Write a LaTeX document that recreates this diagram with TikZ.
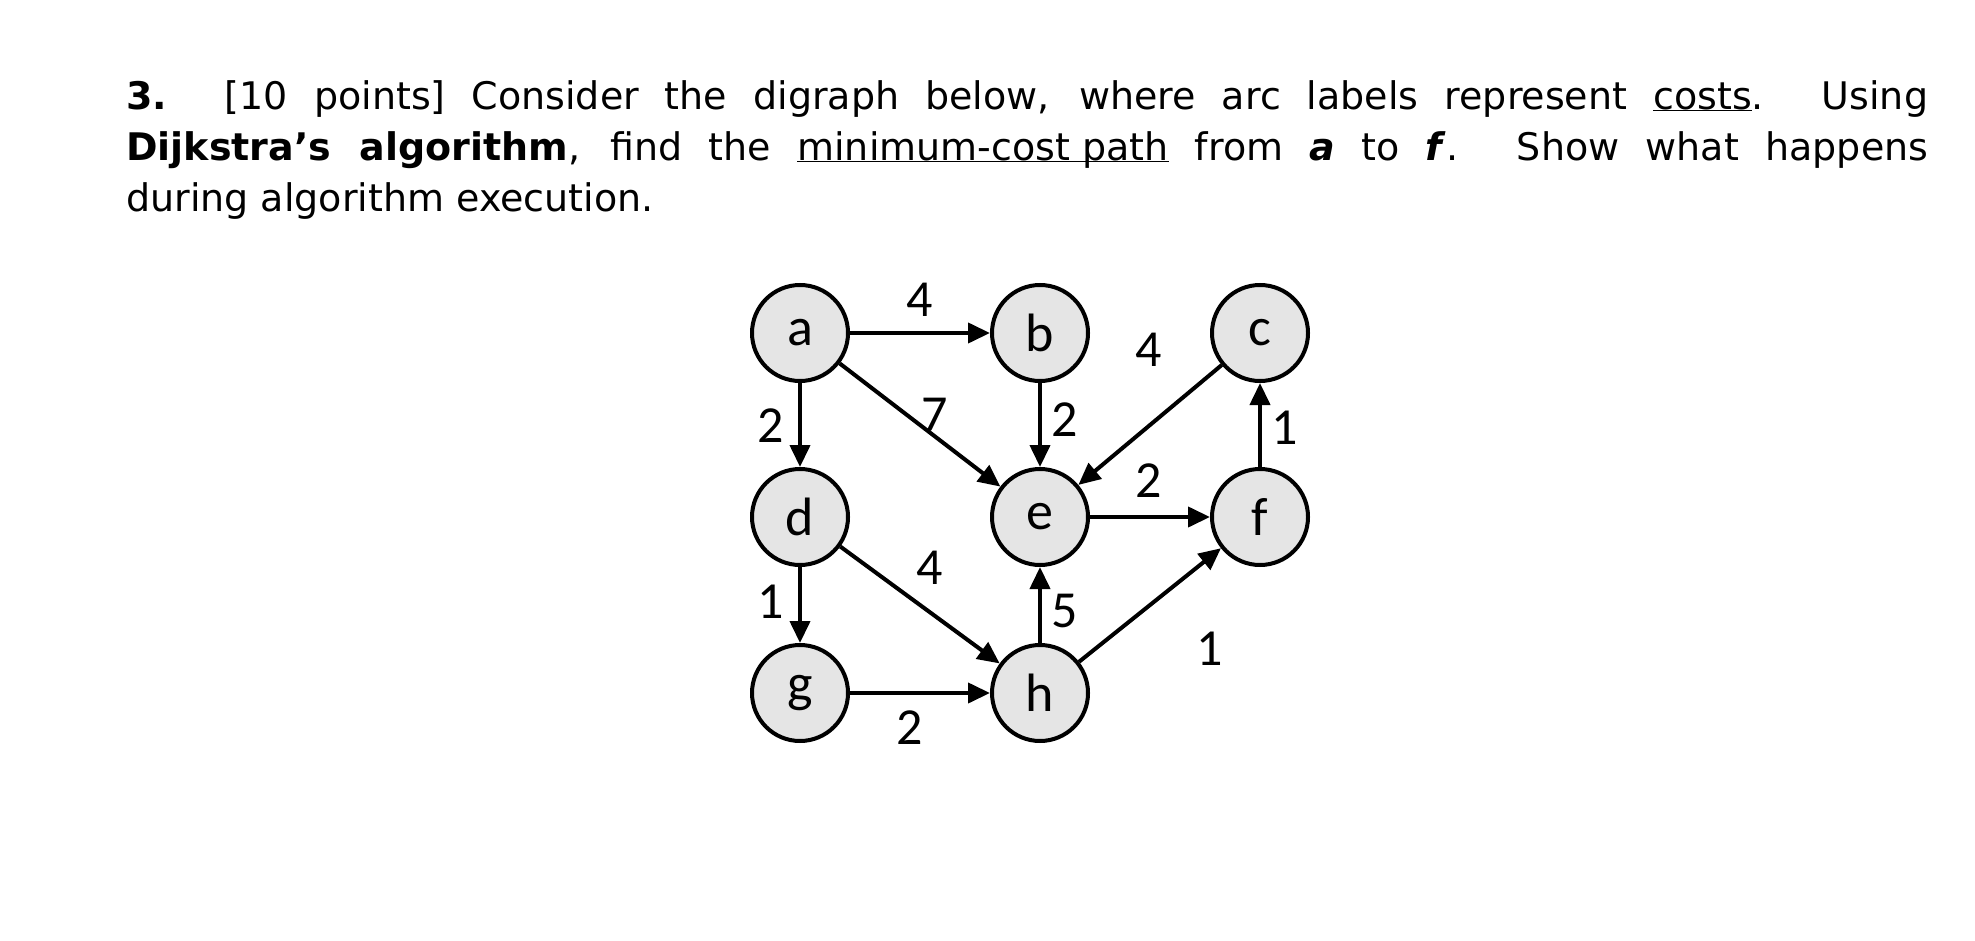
\documentclass[tikz,border=0pt]{standalone}
\usepackage{fontspec}
\setmainfont{DejaVu Sans}
\newfontfamily\calib{Carlito}
\newcommand\myul[1]{\underline{\smash{#1}}}
\usetikzlibrary{arrows.meta}
\begin{document}
\begin{tikzpicture}[x=1pt,y=-1pt,
  vtx/.style={circle,draw,line width=4pt,fill=black!10,minimum size=96pt,inner sep=0pt,font=\calib\fontsize{54}{54}\selectfont},
  arc/.style={line width=4pt,-{Triangle[length=22pt,width=20pt]}},
  lab/.style={font=\calib\fontsize{52}{52}\selectfont}]
\useasboundingbox (0,0) rectangle (1975,941);
\node[anchor=north west,text width=1802pt,align=justify,inner sep=0pt,font=\fontsize{38}{51}\selectfont] (q) at (126,80)
{\hyphenpenalty=10000 \textbf{3.} [10 points] Consider the digraph below, where arc labels represent \myul{costs}. Using\linebreak \textbf{Dijkstra’s algorithm}, find the \myul{minimum-cost path} from \textbf{\textit{a}} to \textbf{\textit{f}}. Show what happens\linebreak during algorithm execution.};
\node[vtx] (a) at (800,333) {a};
\node[vtx] (b) at (1040,333) {b};
\node[vtx] (c) at (1260,333) {c};
\node[vtx] (d) at (800,517) {d};
\node[vtx] (e) at (1040,517) {e};
\node[vtx] (f) at (1260,517) {f};
\node[vtx] (g) at (800,693) {g};
\node[vtx] (h) at (1040,693) {h};
\draw[arc] (a) -- (b);
\draw[arc] (a) -- (d);
\draw[arc] (a) -- (e);
\draw[arc] (b) -- (e);
\draw[arc] (c) -- (e);
\draw[arc] (e) -- (f);
\draw[arc] (f) -- (c);
\draw[arc] (d) -- (g);
\draw[arc] (d) -- (h);
\draw[arc] (g) -- (h);
\draw[arc] (h) -- (e);
\draw[arc] (h) -- (f);
\node[lab] (l1) at (920,300) {4};
\node[lab] (l2) at (935,415) {7};
\node[lab] (l3) at (771,426) {2};
\node[lab] (l4) at (1065,420) {2};
\node[lab] (l5) at (1149,350) {4};
\node[lab] (l6) at (1285,428) {1};
\node[lab] (l7) at (1149,481) {2};
\node[lab] (l8) at (930,568) {4};
\node[lab] (l9) at (771,602) {1};
\node[lab] (l10) at (1065,611) {5};
\node[lab] (l11) at (1210,649) {1};
\node[lab] (l12) at (910,728) {2};
\end{tikzpicture}
\end{document}
